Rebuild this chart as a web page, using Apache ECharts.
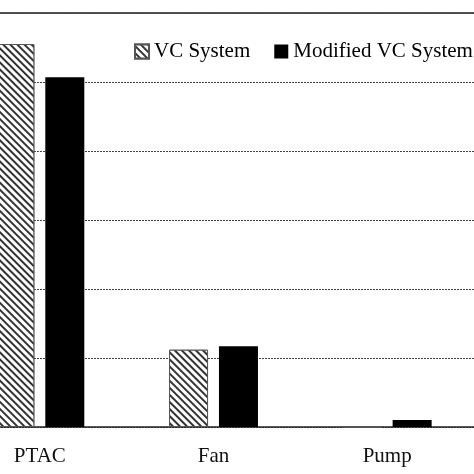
<!DOCTYPE html>
<html>
<head>
<meta charset="utf-8">
<script src="https://cdn.jsdelivr.net/npm/echarts@6/dist/echarts.min.js"></script>
<style>html,body{margin:0;background:#fff;overflow:hidden;width:474px;height:474px}#main{width:521px;height:474px;margin-left:-47px}</style>
</head>
<body>
<div id="main"></div>
<script>
var categories = ['PTAC', 'Fan', 'Pump'];
var vcSystem = [5.55, 1.12, 0];
var modifiedVc = [5.07, 1.17, 0.1];

var myChart = echarts.init(document.getElementById('main'));
var font = '"Liberation Serif", "Times New Roman", serif';
var hatch = {
    symbol: 'rect',
    dashArrayX: [1, 0],
    dashArrayY: [1.5, 2.5],
    rotation: Math.PI / 4,
    color: '#333',
    backgroundColor: '#fff'
};
myChart.setOption({
    animation: false,
    grid: { left: 0, right: 0, top: 13, bottom: 47 },
    legend: {
        top: 36, left: 176, width: 400,
        icon: 'rect',
        itemGap: 24, itemWidth: 14, itemHeight: 14,
        textStyle: { fontFamily: font, fontSize: 21, color: '#000' },
        data: ['VC System', 'Modified VC System']
    },
    xAxis: {
        type: 'category',
        data: categories,
        axisTick: { show: false },
        axisLine: { lineStyle: { color: '#222', width: 1.5 } },
        axisLabel: { fontFamily: font, fontSize: 21, color: '#111', margin: 19 }
    },
    yAxis: {
        type: 'value', min: 0, max: 6, interval: 1,
        axisLabel: { show: false },
        axisLine: { show: false },
        splitLine: { lineStyle: { color: '#444', type: [2, 1] } }
    },
    series: [
        {
            name: 'VC System', type: 'bar', data: vcSystem,
            barWidth: 39, barGap: '28%',
            itemStyle: { color: '#fff', borderColor: '#555', borderWidth: 1, decal: hatch }
        },
        {
            name: 'Modified VC System', type: 'bar', data: modifiedVc,
            barWidth: 39,
            itemStyle: { color: '#000' }
        }
    ],
    graphic: [{
        type: 'line', shape: { x1: 0, y1: 13, x2: 521, y2: 13 },
        style: { stroke: '#555', lineWidth: 2 }
    }]
});
</script>
</body>
</html>
